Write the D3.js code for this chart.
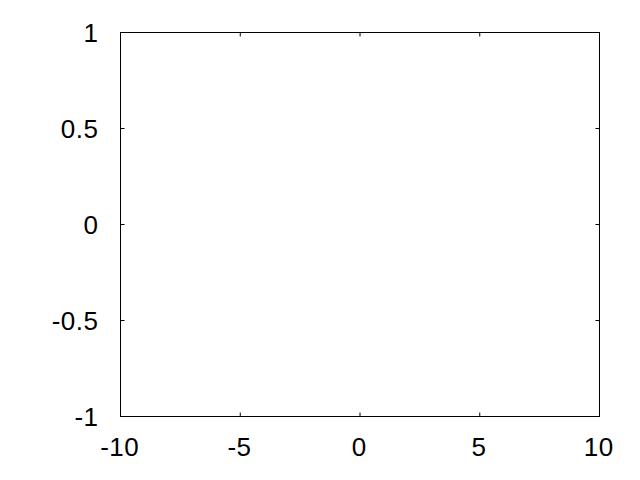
<!DOCTYPE html>
<html><head><meta charset="utf-8">
<script src="https://cdn.jsdelivr.net/npm/d3@7"></script>
<style>body{margin:0;background:#fff}svg{display:block}</style>
</head><body>
<script>
const xDomain = [-10, 10];
const yDomain = [-1, 1];
const xTicks = [-10, -5, 0, 5, 10];
const yTicks = [-1, -0.5, 0, 0.5, 1];
const xTickLabels = ["-10", "-5", "0", "5", "10"];
const yTickLabels = ["-1", "-0.5", "0", "0.5", "1"];

const W = 640, H = 480;
const m = {left: 120.5, right: 599.5, top: 32.5, bottom: 416.5};
const svg = d3.select("body").append("svg").attr("width", W).attr("height", H);
const x = d3.scaleLinear().domain(xDomain).range([m.left, m.right]);
const y = d3.scaleLinear().domain(yDomain).range([m.bottom, m.top]);
const font = "Liberation Sans, Arial, sans-serif";
const fs = 26;
const tl = 4;
const ls = 0.5;

const g = svg.append("g").attr("stroke", "#000").attr("stroke-width", 1);
xTicks.forEach(v => {
  g.append("line").attr("x1", x(v)).attr("x2", x(v)).attr("y1", m.bottom).attr("y2", m.bottom - tl);
  g.append("line").attr("x1", x(v)).attr("x2", x(v)).attr("y1", m.top).attr("y2", m.top + tl);
});
yTicks.forEach(v => {
  g.append("line").attr("y1", y(v)).attr("y2", y(v)).attr("x1", m.left).attr("x2", m.left + tl);
  g.append("line").attr("y1", y(v)).attr("y2", y(v)).attr("x1", m.right).attr("x2", m.right - tl);
});
svg.append("rect").attr("x", m.left).attr("y", m.top).attr("width", m.right - m.left)
  .attr("height", m.bottom - m.top).attr("fill", "none").attr("stroke", "#000");

svg.append("g").selectAll("text").data(xTicks).join("text")
  .attr("x", d => x(d) + ls / 2 - 1).attr("y", 456)
  .attr("text-anchor", "middle").attr("font-family", font).attr("font-size", fs)
  .attr("letter-spacing", ls)
  .text((d, i) => xTickLabels[i]);
svg.append("g").selectAll("text").data(yTicks).join("text")
  .attr("x", 98 + ls).attr("y", d => y(d) + 9)
  .attr("text-anchor", "end").attr("font-family", font).attr("font-size", fs)
  .attr("letter-spacing", ls)
  .text((d, i) => yTickLabels[i]);
</script>
</body></html>
